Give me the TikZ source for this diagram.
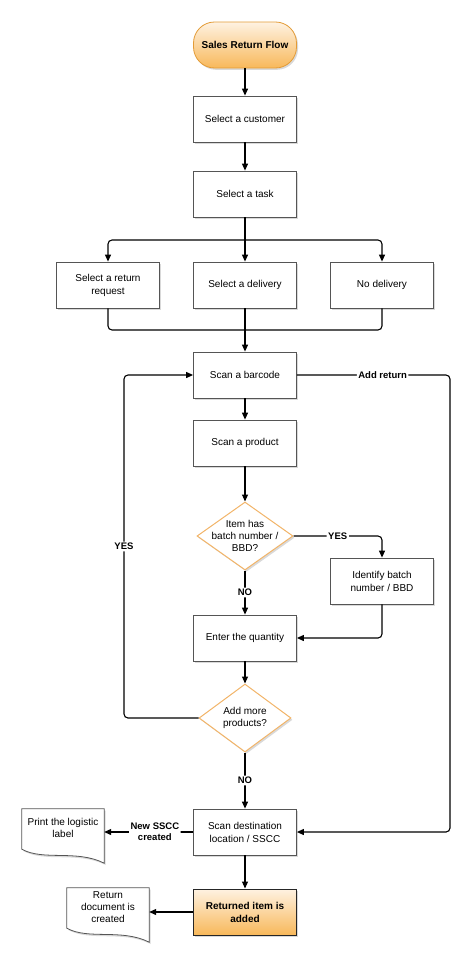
\documentclass[tikz,border=0pt]{standalone}
\usepackage{fontspec}
\setmainfont{Liberation Sans}
\usetikzlibrary{shapes.geometric}
\usetikzlibrary{arrows.meta}
\usetikzlibrary{shadows}
\usetikzlibrary{backgrounds}
\definecolor{flowtop}{HTML}{FEF2E2}
\definecolor{flowbot}{HTML}{F8B85A}
\definecolor{flowedge}{HTML}{E39B36}
\definecolor{diaedge}{HTML}{F2B468}
\definecolor{boxedge}{HTML}{555555}
\tikzset{
	boxshadow/.style={drop shadow={shadow xshift=1.5pt,shadow yshift=-1.8pt,opacity=0.3}},
	box/.style={draw=boxedge,line width=0.8pt,fill=white,boxshadow,minimum width=103pt,minimum height=46pt,align=center,font=\fontsize{10}{13}\selectfont},
	startbox/.style={box,draw=flowedge,rounded corners=21pt,top color=flowtop,bottom color=flowbot,font=\bfseries\fontsize{10}{13}\selectfont},
	endbox/.style={box,draw=black!85,line width=1pt,top color=flowtop,bottom color=flowbot,font=\bfseries\fontsize{10}{13}\selectfont},
	decision/.style={diamond,draw=diaedge,line width=1pt,fill=white,boxshadow,inner sep=-20pt,minimum height=68pt,align=center,font=\fontsize{10}{12}\selectfont},
	docbox/.style={minimum width=82pt,minimum height=38pt,inner sep=0pt,align=center,font=\fontsize{10}{12}\selectfont},
	docline/.style={draw=boxedge,line width=0.8pt,fill=white,boxshadow},
	conn/.style={line width=1.1pt,rounded corners=4pt},
	arr/.style={conn,-{Triangle[length=7pt,width=6pt]}},
	lbl/.style={fill=white,inner sep=1.5pt,align=center,font=\bfseries\fontsize{9.5}{11}\selectfont}
}
\newcommand{\docpath}[1]{%
	\begin{scope}[on background layer]
		\path[docline] (#1.north west) -- (#1.north east) -- ([yshift=-16pt]#1.south east)
		.. controls ([xshift=-28pt,yshift=-2pt]#1.south east) and ([xshift=22pt,yshift=-14pt]#1.south west) .. ([yshift=-2pt]#1.south west) -- cycle;
	\end{scope}%
}
\begin{document}
\begin{tikzpicture}[x=1pt,y=-1pt]
				\useasboundingbox (0,0) rectangle (474,961);
				\def\cx{245};
				\def\lx{108};
				\def\rx{382};
				\node[startbox] (start) at (\cx,45) {Sales Return Flow};
				\node[box] (cust) at (\cx,119) {Select a customer};
				\node[box] (task) at (\cx,194) {Select a task};
				\node[box] (retreq) at (\lx,285) {Select a return\\request};
				\node[box] (deliv) at (\cx,285) {Select a delivery};
				\node[box] (nodel) at (\rx,285) {No delivery};
				\node[box] (barcode) at (\cx,375) {Scan a barcode};
				\node[box] (product) at (\cx,443) {Scan a product};
				\node[decision,minimum width=96pt] (batch) at (\cx,536) {Item has\\batch number /\\BBD?};
				\node[box] (ident) at (\rx,581) {Identify batch\\number / BBD};
				\node[box] (qty) at (\cx,638) {Enter the quantity};
				\node[decision,minimum width=92pt] (more) at (\cx,718) {Add more\\products?};
				\node[box] (dest) at (\cx,832) {Scan destination\\location / SSCC};
				\node[endbox] (added) at (\cx,912) {Returned item is\\added};
				\node[docbox] (print) at (63,828) {Print the logistic\\label};
				\node[docbox] (retdoc) at (108,907) {Return\\document is\\created};
				\docpath{print}
				\docpath{retdoc}
				\coordinate (split) at (\cx,240);
				\coordinate (join) at (\cx,330);
				\coordinate (loopl) at (124,718);
				\coordinate (loopr) at (450,375);
				\draw[arr] (start) -- (cust);
				\draw[arr] (cust) -- (task);
				\draw[conn] (task) -- (split);
				\draw[arr] (split) -| (retreq.north);
				\draw[arr] (split) -| (nodel.north);
				\draw[arr] (split) -- (deliv);
				\draw[conn] (retreq.south) |- (join);
				\draw[conn] (nodel.south) |- (join);
				\draw[arr] (deliv) -- (barcode);
				\draw[arr] (barcode) -- (product);
				\draw[arr] (product) -- (batch);
				\draw[arr] (batch.east) -| node[lbl,pos=0.25] {YES} (ident.north);
				\draw[arr] (batch) -- node[lbl] {NO} (qty);
				\draw[arr] (ident.south) |- (qty.east);
				\draw[arr] (qty) -- (more);
				\draw[arr] (more.west) -- (loopl) |- node[lbl,pos=0.25] {YES} (barcode.west);
				\draw[arr] (more) -- node[lbl] {NO} (dest);
				\draw[arr] (barcode.east) -- node[lbl,pos=0.56] {Add return} (loopr) |- (dest.east);
				\draw[arr] (dest.west) -- node[lbl,pos=0.43] {New SSCC\\created} (dest.west -| print.east);
				\draw[arr] (dest) -- (added);
				\draw[arr] (added.west) -- (added.west -| retdoc.east);
			\end{tikzpicture}
\end{document}
